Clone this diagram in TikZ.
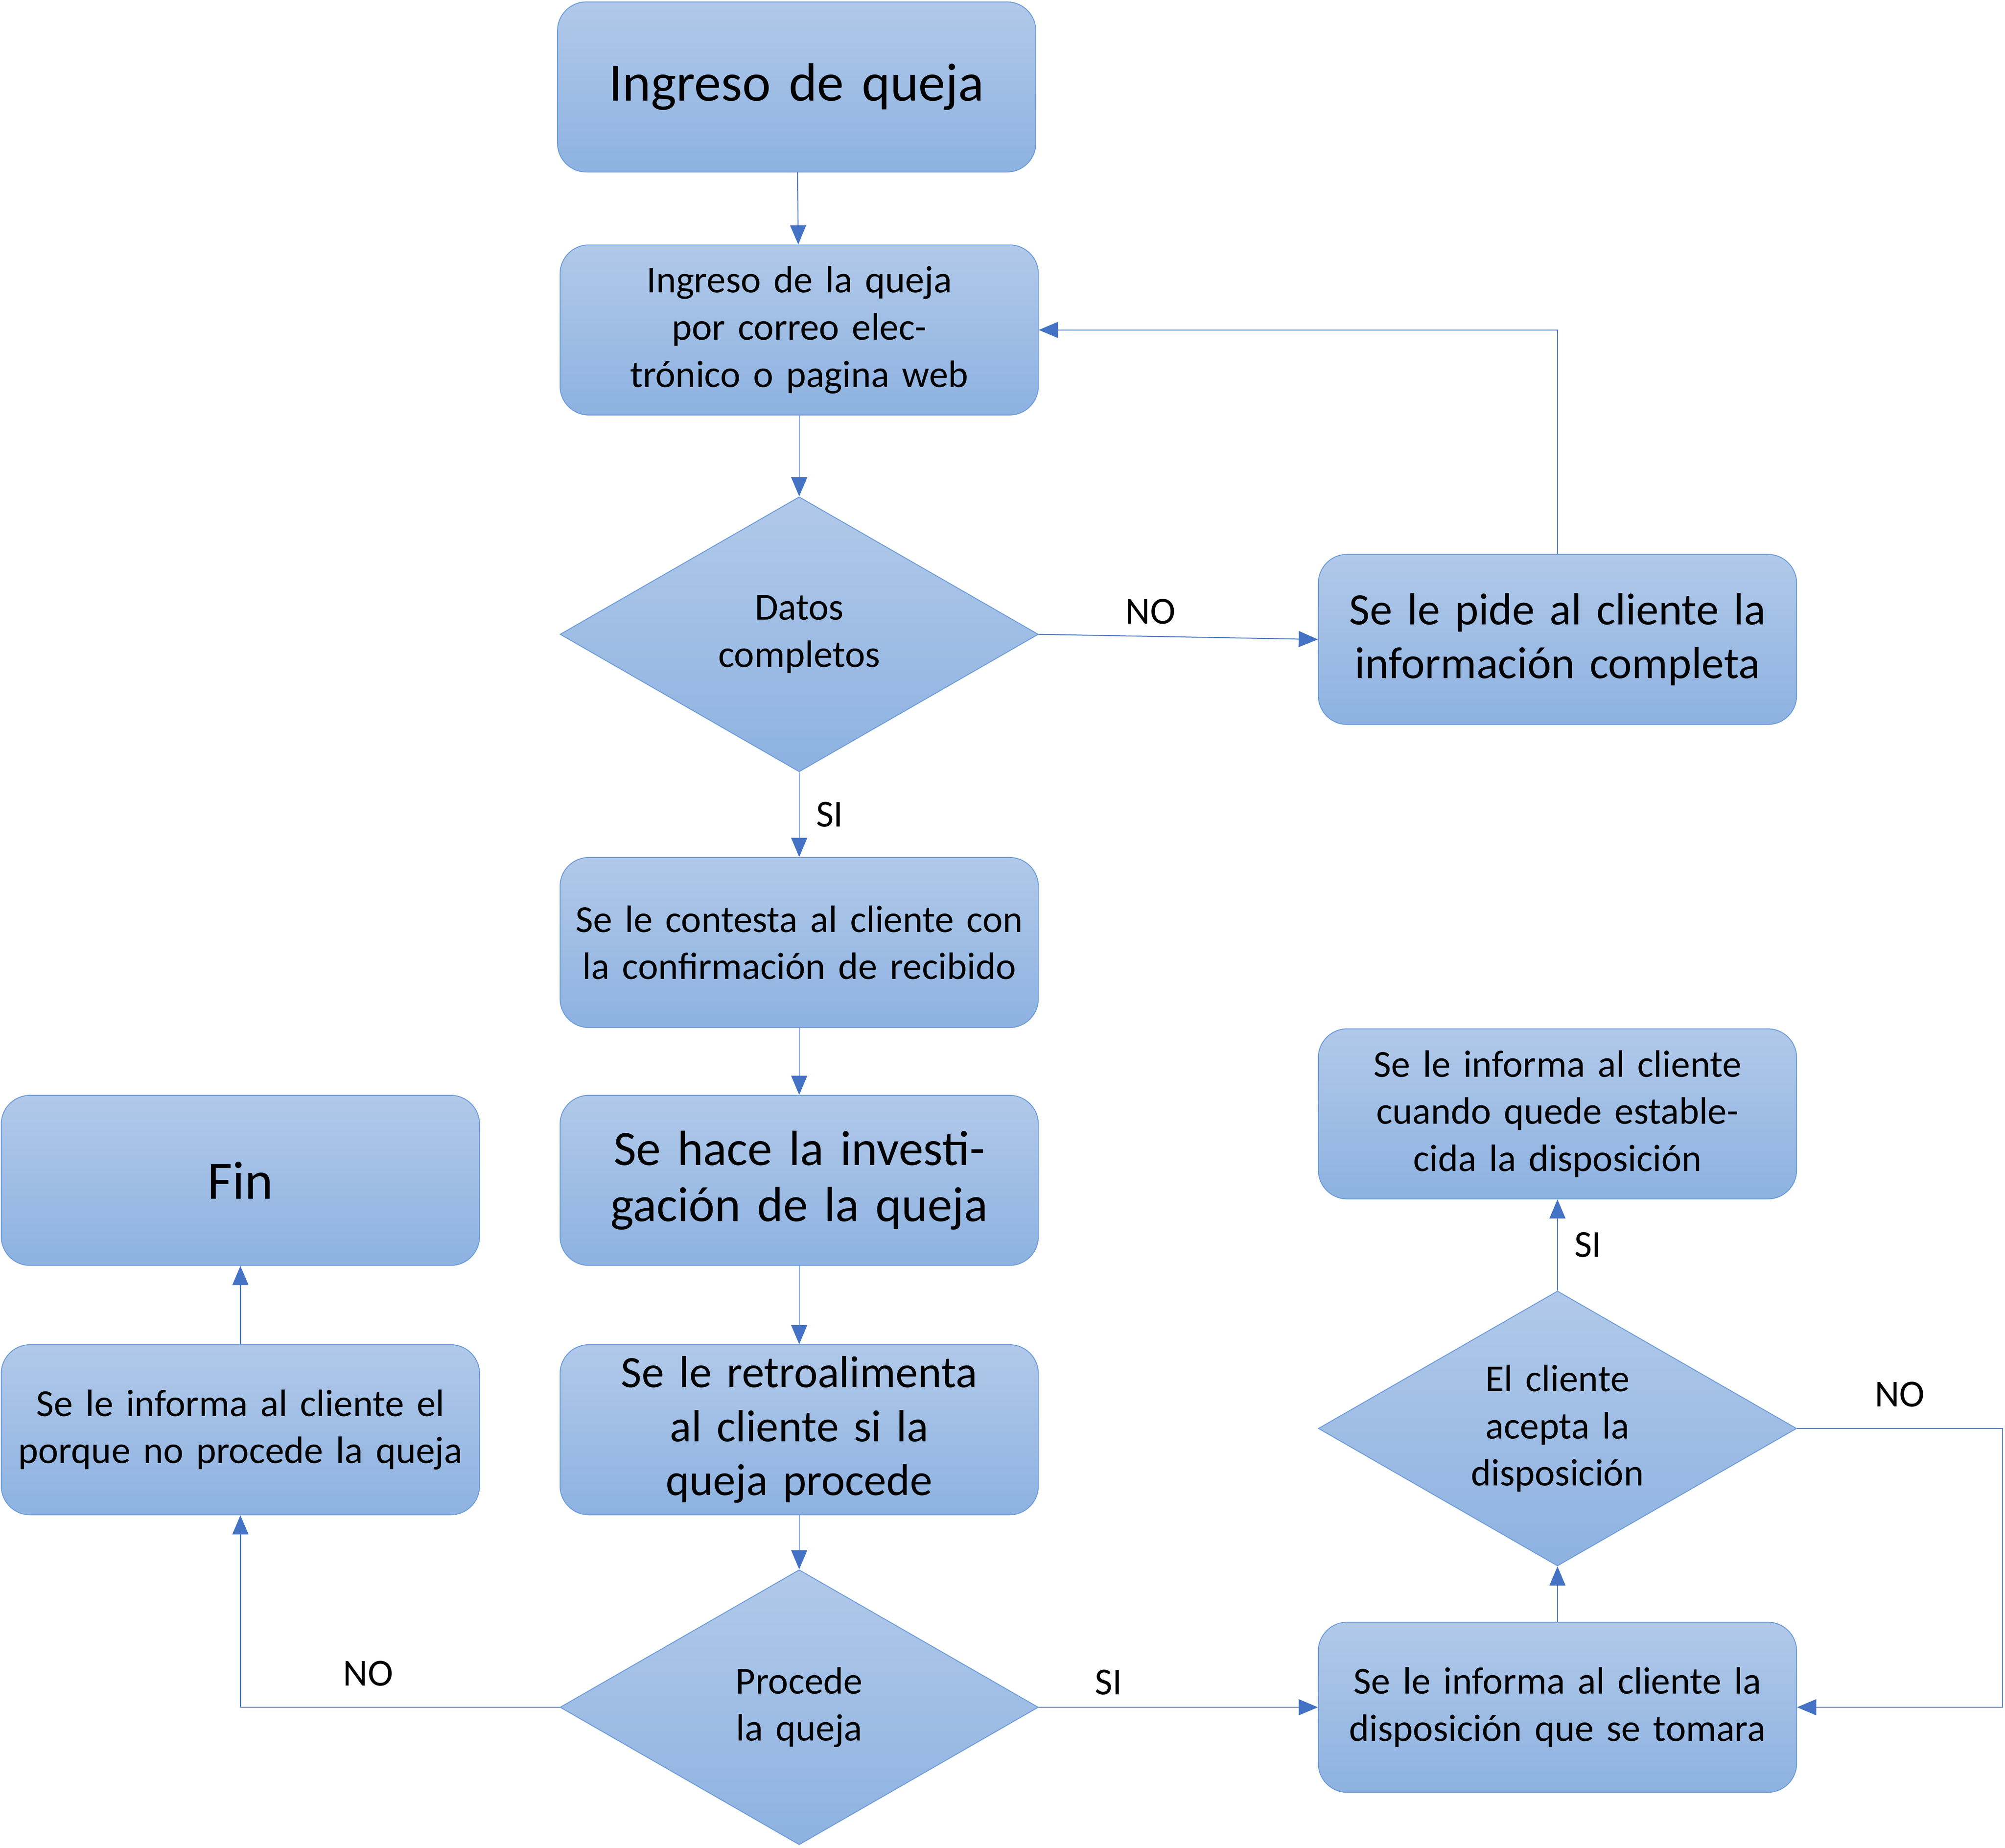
\documentclass[tikz,border=0pt]{standalone}
\usepackage{fontspec}
\setmainfont{Carlito}
\usetikzlibrary{shapes.geometric,arrows.meta}
\definecolor{boxtop}{HTML}{B1C9E9}
\definecolor{boxbot}{HTML}{8DB2E1}
\definecolor{boxline}{HTML}{6C9BD8}
\definecolor{arrowc}{HTML}{4472C4}
\tikzset{
  box/.style={draw=boxline, rounded corners=0.45cm, top color=boxtop, bottom color=boxbot,
    minimum width=7.48cm, minimum height=2.66cm, text width=7cm, align=center, font=\fontsize{17}{21}\selectfont},
  dec/.style={diamond, draw=boxline, top color=boxtop, bottom color=boxbot, aspect=1.74,
    minimum width=7.48cm, minimum height=4.3cm, inner sep=0pt, text width=3.2cm, align=center, font=\fontsize{17}{21}\selectfont},
  flow/.style={draw=arrowc, -{Triangle[length=0.3cm,width=0.25cm]}},
  lbl/.style={font=\fontsize{17}{21}\selectfont}
}
\begin{document}
\begin{tikzpicture}
   \useasboundingbox (0,0) rectangle (31.36,-28.9);
   % left column
   \node[box, font=\fontsize{24}{29}\selectfont] (ingreso) at (12.46,-1.36) {Ingreso de queja};
   \node[box] (correo) at (12.5,-5.16) {Ingreso de la queja por correo electrónico o pagina web};
   \node[dec] (datos) at (12.5,-9.92) {Datos completos};
   \node[box] (contesta) at (12.5,-14.74) {Se le contesta al cliente con la confirmación de recibido};
   \node[box, font=\fontsize{22}{25}\selectfont] (investiga) at (12.5,-18.46) {Se hace la investigación de la queja};
   \node[box, font=\fontsize{20}{24}\selectfont] (retro) at (12.5,-22.36) {Se le retroalimenta al cliente si la queja procede};
   \node[dec] (procede) at (12.5,-26.7) {Procede la queja};
   % far left
   \node[box, font=\fontsize{24}{29}\selectfont] (fin) at (3.76,-18.46) {Fin};
   \node[box] (porque) at (3.76,-22.36) {Se le informa al cliente el porque no procede la queja};
   % right column
   \node[box, font=\fontsize{20}{24}\selectfont] (pide) at (24.36,-10) {Se le pide al cliente la información completa};
   \node[box] (cuando) at (24.36,-17.42) {Se le informa al cliente cuando quede establecida la disposición};
   \node[dec] (acepta) at (24.36,-22.34) {El cliente acepta la disposición};
   \node[box] (dispo) at (24.36,-26.7) {Se le informa al cliente la disposición que se tomara};
   \coordinate (vuelta) at (31.32,-22.34);
   % connectors
   \draw[flow] (ingreso) -- (correo);
   \draw[flow] (correo) -- (datos);
   \draw[flow] (datos.east) -- node[lbl, above=2pt, pos=0.4] (no1) {NO} (pide.west);
   \draw[flow] (pide.north) |- (correo.east);
   \draw[flow] (datos.south) -- node[lbl, right=4pt] (si1) {SI} (contesta.north);
   \draw[flow] (contesta) -- (investiga);
   \draw[flow] (investiga) -- (retro);
   \draw[flow] (retro) -- (procede);
   \draw[flow] (procede.west) -| node[lbl, above=6pt, pos=0.3] (no2) {NO} (porque.south);
   \draw[flow] (porque) -- (fin);
   \draw[flow] (procede.east) -- node[lbl, above=2pt, pos=0.25] (si2) {SI} (dispo.west);
   \draw[flow] (dispo) -- (acepta);
   \draw[flow] (acepta) -- node[lbl, right=4pt] (si3) {SI} (cuando);
   \draw[flow] (acepta.east) -- node[lbl, above=6pt] (no3) {NO} (vuelta) |- (dispo.east);
\end{tikzpicture}
\end{document}
